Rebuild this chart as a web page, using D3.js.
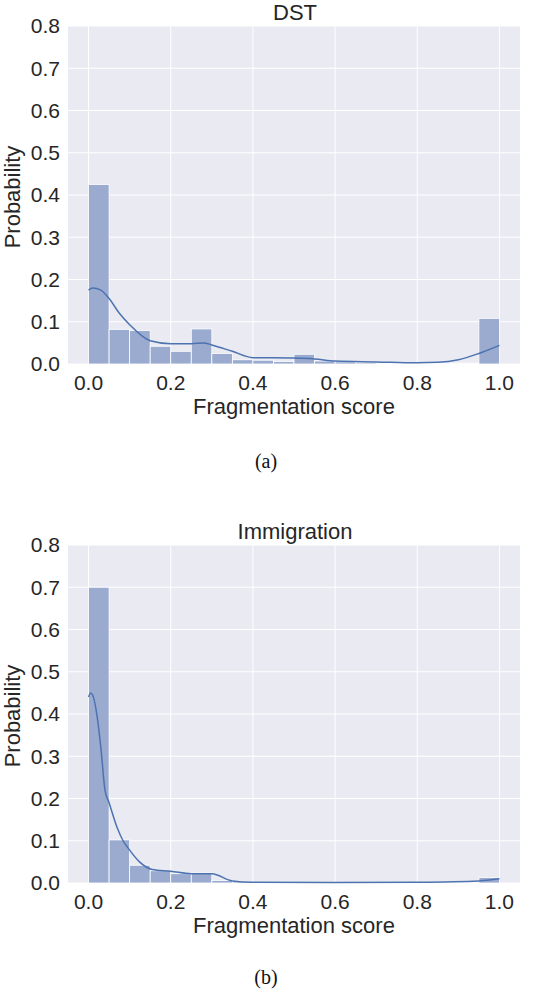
<!DOCTYPE html>
<html><head><meta charset="utf-8">
<script src="https://cdn.jsdelivr.net/npm/d3@7"></script>
<style>body{margin:0;background:#fff}</style>
</head><body>
<svg id="chart" width="537" height="991"></svg>
<script>
// bin edges 0..1 in 20 bins of 0.05
const binEdges = d3.range(0, 20).map(i => i * 0.05);
const dstProb = [0.425, 0.082, 0.079, 0.042, 0.030, 0.083, 0.025, 0.010, 0.009, 0.006,
                 0.023, 0.007, 0.005, 0.003, 0.002, 0.001, 0.001, 0.002, 0.002, 0.108];
const immProb = [0.700, 0.102, 0.042, 0.029, 0.022, 0.024, 0.006, 0.003, 0.002, 0.002,
                 0.001, 0.001, 0.001, 0.001, 0.001, 0.001, 0.002, 0.002, 0.002, 0.013];
// KDE curves
const dstKdeX = [0, 0.01, 0.03, 0.05, 0.075, 0.1, 0.15, 0.2, 0.25, 0.28, 0.3, 0.35, 0.4, 0.5, 0.55, 0.6, 0.7, 0.8, 0.85, 0.9, 0.95, 1.0];
const dstKdeY = [0.175, 0.18, 0.175, 0.155, 0.12, 0.093, 0.055, 0.048, 0.048, 0.05, 0.045, 0.03, 0.015, 0.014, 0.012, 0.007, 0.005, 0.003, 0.004, 0.01, 0.025, 0.044];
const immKdeX = [0, 0.005, 0.01, 0.02, 0.03, 0.04, 0.05, 0.07, 0.084, 0.096, 0.124, 0.155, 0.2, 0.25, 0.3, 0.35, 0.4, 0.6, 0.8, 0.95, 1.0];
const immKdeY = [0.44, 0.45, 0.445, 0.4, 0.32, 0.22, 0.19, 0.13, 0.1, 0.083, 0.05, 0.032, 0.028, 0.022, 0.022, 0.005, 0.002, 0.001, 0.002, 0.005, 0.01];
const xTicks = [0, 0.2, 0.4, 0.6, 0.8, 1.0];
const yTicks = [0, 0.1, 0.2, 0.3, 0.4, 0.5, 0.6, 0.7, 0.8];

const svg = d3.select('#chart');
const font = 'Liberation Sans, Arial, sans-serif';

function panel(top, bottom, title, probs, kx, ky, caption, captionY) {
    const x = d3.scaleLinear().domain([-0.05, 1.05]).range([68, 520]);
    const y = d3.scaleLinear().domain([0, 0.8]).range([bottom, top]);
    const g = svg.append('g');

    g.append('rect').attr('x', 68).attr('y', top).attr('width', 452).attr('height', bottom - top).attr('fill', '#eaeaf2');

    // 网格线
    g.selectAll('.gy').data(yTicks).join('line')
        .attr('x1', 68).attr('x2', 520).attr('y1', d => y(d)).attr('y2', d => y(d))
        .attr('stroke', '#fff').attr('stroke-width', 1);
    g.selectAll('.gx').data(xTicks).join('line')
        .attr('y1', top).attr('y2', bottom).attr('x1', d => x(d)).attr('x2', d => x(d))
        .attr('stroke', '#fff').attr('stroke-width', 1);

    // 柱子
    g.selectAll('.bar').data(probs).join('rect')
        .attr('x', (d, i) => x(binEdges[i]))
        .attr('width', x(0.05) - x(0))
        .attr('y', d => y(d))
        .attr('height', d => bottom - y(d))
        .attr('fill', '#9aabcf').attr('stroke', '#fff').attr('stroke-width', 0.8);

    // KDE
    const line = d3.line().x(d => x(d[0])).y(d => y(d[1])).curve(d3.curveMonotoneX);
    g.append('path').datum(kx.map((v, i) => [v, ky[i]]))
        .attr('fill', 'none').attr('stroke', '#4c72b0').attr('stroke-width', 1.5).attr('d', line);

    // 坐标轴文字
    g.selectAll('.ty').data(yTicks).join('text')
        .attr('x', 60).attr('y', d => y(d)).attr('dy', '0.35em')
        .attr('text-anchor', 'end').attr('font-family', font).attr('font-size', 21).attr('fill', '#262626')
        .text(d3.format('.1f'));
    g.selectAll('.tx').data(xTicks).join('text')
        .attr('x', d => x(d)).attr('y', bottom + 26)
        .attr('text-anchor', 'middle').attr('font-family', font).attr('font-size', 21).attr('fill', '#262626')
        .text(d3.format('.1f'));

    g.append('text').attr('x', 294).attr('y', bottom + 50).attr('text-anchor', 'middle')
        .attr('font-family', font).attr('font-size', 22).attr('fill', '#262626').text('Fragmentation score');
    g.append('text').attr('transform', `translate(20,${(top + bottom) / 2 + 2}) rotate(-90)`)
        .attr('text-anchor', 'middle').attr('font-family', font).attr('font-size', 22).attr('fill', '#262626').text('Probability');
    g.append('text').attr('x', 295).attr('y', top - 6).attr('text-anchor', 'middle')
        .attr('font-family', font).attr('font-size', 22).attr('fill', '#262626').text(title);
    g.append('text').attr('x', 266).attr('y', captionY).attr('text-anchor', 'middle')
        .attr('font-family', 'Liberation Serif, serif').attr('font-size', 20).attr('fill', '#111').text(caption);
}

panel(26, 364, 'DST', dstProb, dstKdeX, dstKdeY, '(a)', 468);
panel(545, 883, 'Immigration', immProb, immKdeX, immKdeY, '(b)', 984);
</script>
</body></html>
